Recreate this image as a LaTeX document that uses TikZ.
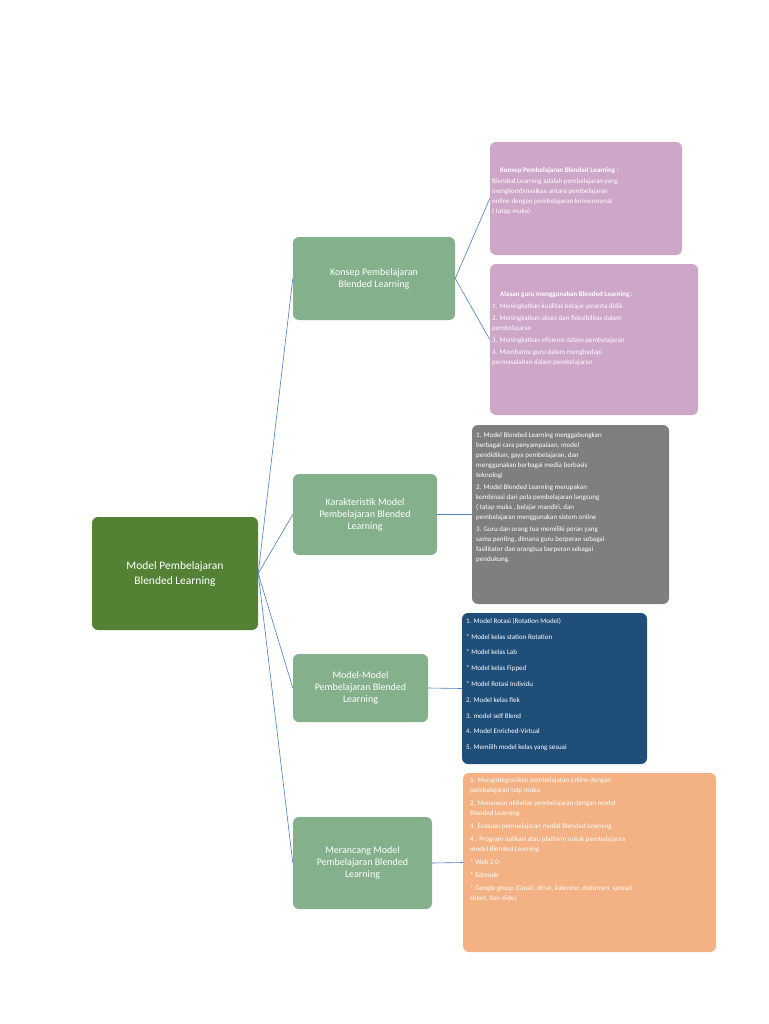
\documentclass[tikz,border=0pt]{standalone}
\usepackage{fontspec}
\setmainfont{Carlito}
\definecolor{rootgreen}{HTML}{548235}
\definecolor{topicgreen}{HTML}{84B08C}
\definecolor{pinkbox}{HTML}{CDA6C8}
\definecolor{graybox}{HTML}{7F7F7F}
\definecolor{bluebox}{HTML}{1F4E79}
\definecolor{orangebox}{HTML}{F4B183}
\definecolor{linkblue}{HTML}{4A7EBB}
\tikzset{
    box/.style={rounded corners=6pt, text=white, inner sep=0pt},
    topic/.style={box, fill=topicgreen, align=center, font=\fontsize{10}{12}\selectfont},
    note/.style={box, align=left, font=\fontsize{7}{10}\selectfont},
    link/.style={draw=linkblue, line width=0.6pt}
}
\begin{document}
\begin{tikzpicture}[x=1pt,y=-1pt]
    \useasboundingbox (0,0) rectangle (768,1024);
    % Root
    \node[box, fill=rootgreen, minimum width=166pt, minimum height=113pt, align=center,
        font=\fontsize{11.5}{15}\selectfont] (Root) at (175,573.5)
        {Model Pembelajaran\\Blended Learning};
    % Topics
    \node[topic, minimum width=162pt, minimum height=83pt] (Konsep) at (374,278.5)
        {Konsep Pembelajaran\\Blended Learning};
    \node[topic, minimum width=144pt, minimum height=81pt] (Karakter) at (365,514.5)
        {Karakteristik Model\\Pembelajaran Blended\\Learning};
    \node[topic, minimum width=135pt, minimum height=68pt] (Model) at (360.5,688)
        {Model-Model\\Pembelajaran Blended\\Learning};
    \node[topic, minimum width=139pt, minimum height=92pt] (Rancang) at (362.5,863)
        {Merancang Model\\Pembelajaran Blended\\Learning};
    % Notes
    \node[note, fill=pinkbox, minimum width=192pt, minimum height=113pt] (Pink-1) at (586,198.5) {};
    \node[note, anchor=north west] at (492,167)
        {\hspace*{8pt}\textbf{Konsep Pembelajaran Blended Learning :}\\[1pt]
        Blended Learning adalah pembelajaran yang\\
        mengkombinasikan antara pembelajaran\\
        online dengan pembelajaran konvensional\\
        ( tatap muka)};
    \node[note, fill=pinkbox, minimum width=208pt, minimum height=151pt] (Pink-2) at (594,339.5) {};
    \node[note, anchor=north west] at (492,291)
        {\hspace*{8pt}\textbf{Alasan guru menggunakan Blended Learning :}\\[2pt]
        1. Meningkatkan kualitas belajar peserta didik\\[2pt]
        2. Meningkatkan akses dan fleksibilitas dalam\\
        pembelajaran\\[2pt]
        3. Meningkatkan efisiensi dalam pembelajaran\\[2pt]
        4. Membantu guru dalam menghadapi\\
        permasalahan dalam pembelajaran};
    \node[note, fill=graybox, minimum width=197pt, minimum height=179pt] (Gray) at (570.5,514.5) {};
    \node[note, anchor=north west] at (476,432)
        {1. Model Blended Learning menggabungkan\\
        berbagai cara penyampaiaan, model\\
        pendidikan, gaya pembelajaran, dan\\
        menggunakan berbagai media berbasis\\
        teknologi\\[2pt]
        2. Model Blended Learning merupakan\\
        kombinasi dari pola pembelajaran langsung\\
        ( tatap muka , belajar mandiri, dan\\
        pembelajaran menggunakan sistem online\\[2pt]
        3. Guru dan orang tua memiliki peran yang\\
        sama penting, dimana guru berperan sebagai\\
        fasilitator dan orangtua berperan sebagai\\
        pendukung.};
    \node[note, fill=bluebox, minimum width=185pt, minimum height=151pt] (Blue) at (554.5,688.5) {};
    \node[note, anchor=north west, font=\fontsize{7}{15.8}\selectfont] at (466,618)
        {1. Model Rotasi (Rotation Model)\\
        * Model kelas station Rotation\\
        * Model kelas Lab\\
        * Model kelas Fipped\\
        * Model Rotasi Individu\\
        2. Model kelas flek\\
        3. model self Blend\\
        4. Model Enriched-Virtual\\
        5. Memilih model kelas yang sesuai};
    \node[note, fill=orangebox, minimum width=253pt, minimum height=179pt] (Orange) at (589.5,862.5) {};
    \node[note, anchor=north west] at (470,777)
        {1. Mengintegrasikan pembelajaran online dengan\\
        pembelajaran tatp muka\\[3pt]
        2. Menyusun aktivitas pembelajaran dengan model\\
        Blended Learning\\[3pt]
        3. Evaluasi pembelajaran model Blended Learning\\[3pt]
        4.. Program aplikasi atau platform untuk pembelajaran\\
        model Blended Learning\\[3pt]
        * Web 2.0\\[3pt]
        * Edmode\\[3pt]
        * Google group (Gmail, drive, kalender, dokumen, spread\\
        sheet, dan slide)};
    % Connect root to topics
    \foreach \t in {Konsep,Karakter,Model,Rancang} {
        \draw[link] (Root.east) -- (\t.west);
    }
    % Connect topics to notes
    \draw[link] (Konsep.east) -- (Pink-1.west);
    \draw[link] (Konsep.east) -- (Pink-2.west);
    \draw[link] (Karakter.east) -- (Gray.west);
    \draw[link] (Model.east) -- (Blue.west);
    \draw[link] (Rancang.east) -- (Orange.west);
\end{tikzpicture}
\end{document}
